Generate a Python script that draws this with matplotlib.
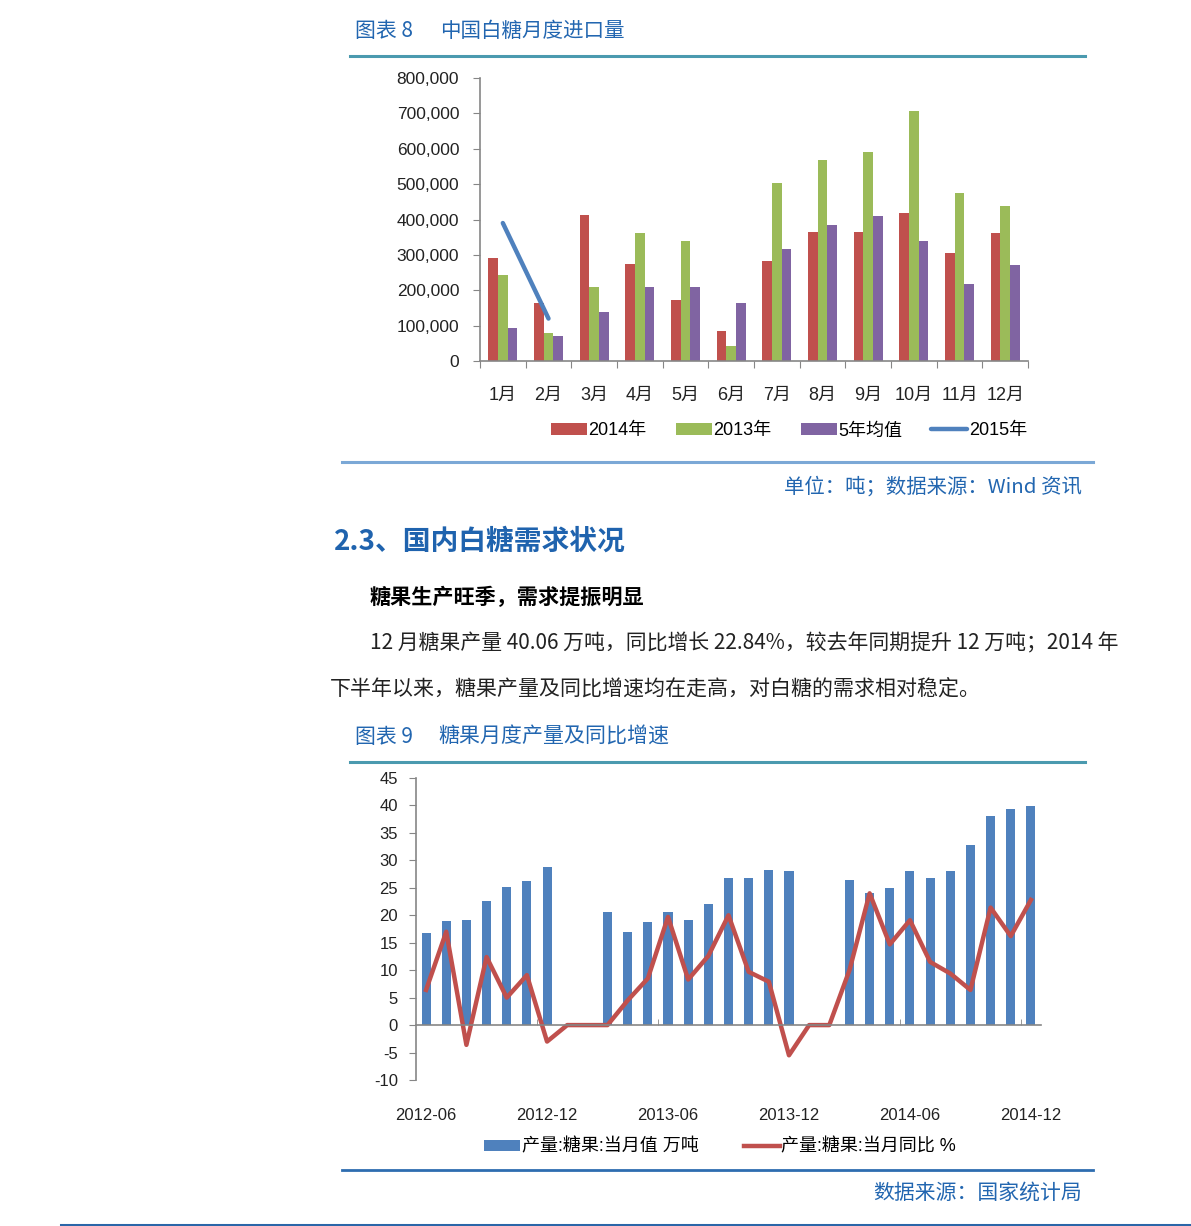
import matplotlib
matplotlib.use("Agg")
import matplotlib.pyplot as plt
import numpy as np
from matplotlib.lines import Line2D

plt.rcParams['font.family'] = ['Liberation Sans', 'Noto Sans CJK SC', 'DejaVu Sans']
plt.rcParams['axes.unicode_minus'] = False

# ---------------- data: chart 8 ----------------
months = ['1月', '2月', '3月', '4月', '5月', '6月', '7月', '8月', '9月', '10月', '11月', '12月']
imp_2014 = [291000, 163000, 413000, 274000, 173000, 85000, 283000, 366000, 366000, 419000, 305000, 361000]
imp_2013 = [243000, 80000, 208000, 361000, 340000, 41000, 502000, 568000, 590000, 708000, 476000, 437000]
imp_5yr = [94000, 72000, 138000, 208000, 208000, 164000, 318000, 384000, 410000, 340000, 217000, 270000]
imp_2015 = [390000, 120000]

# ---------------- data: chart 9 ----------------
periods = ['2012-06', '2012-07', '2012-08', '2012-09', '2012-10', '2012-11', '2012-12',
           '2013-01', '2013-02', '2013-03', '2013-04', '2013-05', '2013-06', '2013-07',
           '2013-08', '2013-09', '2013-10', '2013-11', '2013-12', '2014-01', '2014-02',
           '2014-03', '2014-04', '2014-05', '2014-06', '2014-07', '2014-08', '2014-09',
           '2014-10', '2014-11', '2014-12']
candy_output = [16.7, 18.9, 19.2, 22.6, 25.1, 26.3, 28.8,
                np.nan, np.nan, 20.6, 17.0, 18.7, 20.6, 19.2,
                22.0, 26.8, 26.8, 28.2, 28.0, np.nan, np.nan,
                26.5, 24.0, 24.9, 28.0, 26.8, 28.0, 32.8,
                38.0, 39.3, 39.9]
candy_yoy = [6.4, 17.0, -3.6, 12.4, 5.0, 9.1, -3.0,
             0.0, 0.0, 0.0, 4.5, 8.5, 19.7, 8.3,
             12.6, 20.0, 9.7, 7.9, -5.5, 0.0, 0.0,
             10.0, 24.0, 14.7, 19.1, 11.5, 9.4, 6.4,
             21.4, 16.2, 22.8]
x_labels = ['2012-06', '2012-12', '2013-06', '2013-12', '2014-06', '2014-12']

W, H = 1191, 1226
fig = plt.figure(figsize=(W / 100, H / 100), dpi=100)
fig.patch.set_facecolor('white')

def px_axes(x0, y0, x1, y1):
    return fig.add_axes([x0 / W, 1 - y1 / H, (x1 - x0) / W, (y1 - y0) / H])

def hline(y, x0, x1, color, lw=2.0):
    fig.add_artist(Line2D([x0 / W, x1 / W], [1 - y / H, 1 - y / H], color=color, lw=lw,
                          transform=fig.transFigure))

def ftext(x, y, s, **kw):
    fig.text(x / W, 1 - y / H, s, **kw)

BLUE_TXT = '#2266B0'
CJK = ['Noto Sans CJK SC', 'DejaVu Sans']
AXC = '#868686'

# ---------------- page text ----------------
ftext(355, 31, '图表 8', color=BLUE_TXT, fontsize=15, family=CJK, va='center', ha='left')
ftext(440, 31, '中国白糖月度进口量', color=BLUE_TXT, fontsize=14.8, family=CJK,
      va='center', ha='left')
hline(56, 350, 1085, '#4B9AAF', 2.2)
hline(462, 342, 1093, '#7BA8D6', 2.2)
ftext(1082, 487, '单位：吨；数据来源：Wind 资讯', color=BLUE_TXT, fontsize=14.7, family=CJK,
      va='center', ha='right')
ftext(334, 542, '2.3、国内白糖需求状况', color='#1F63AE', fontsize=20, family=CJK,
      weight='bold', va='center', ha='left')
ftext(370, 597, '糖果生产旺季，需求提振明显', color='black', fontsize=15.2, family=CJK,
      weight='bold', va='center', ha='left')
ftext(370, 643, '12 月糖果产量 40.06 万吨，同比增长 22.84%，较去年同期提升 12 万吨；2014 年',
      color='#222222', fontsize=15.0, family=CJK, va='center', ha='left')
ftext(330, 689, '下半年以来，糖果产量及同比增速均在走高，对白糖的需求相对稳定。',
      color='#222222', fontsize=15.1, family=CJK, va='center', ha='left')
ftext(355, 737, '图表 9', color=BLUE_TXT, fontsize=15, family=CJK, va='center', ha='left')
ftext(438, 737, '糖果月度产量及同比增速', color=BLUE_TXT, fontsize=15.1, family=CJK,
      va='center', ha='left')
hline(762, 350, 1085, '#4B9AAF', 2.2)
hline(1170, 342, 1093, '#2E6DB0', 2.0)
ftext(1082, 1193, '数据来源：国家统计局', color=BLUE_TXT, fontsize=15, family=CJK,
      va='center', ha='right')
hline(1224.5, 61, 1191, '#2B66A8', 2.2)

# ---------------- chart 8 ----------------
ax1 = px_axes(480, 78, 1028, 361)
x = np.arange(len(months))
bw = 0.21
b1 = ax1.bar(x - bw, imp_2014, width=bw, color='#C0504D', label='2014年')
b2 = ax1.bar(x, imp_2013, width=bw, color='#9BBB59', label='2013年')
b3 = ax1.bar(x + bw, imp_5yr, width=bw, color='#8064A2', label='5年均值')
l1, = ax1.plot(np.arange(len(imp_2015)), imp_2015, color='#4F81BD', lw=3.2, label='2015年',
               solid_capstyle='round')
ax1.set_xlim(-0.5, len(months) - 0.5)
ax1.set_ylim(0, 800000)
ax1.set_yticks(np.arange(0, 800001, 100000))
ax1.set_yticklabels([f'{v:,}' for v in range(0, 800001, 100000)])
ax1.set_xticks(np.arange(-0.5, len(months), 1.0))
ax1.set_xticklabels([])
ax1.set_xticks(x, minor=True)
ax1.set_xticklabels(months, minor=True)
ax1.tick_params(axis='x', which='major', length=5, color=AXC, direction='out')
ax1.tick_params(axis='x', which='minor', length=0, pad=19, labelsize=13, labelcolor='#222222')
ax1.tick_params(axis='y', length=5, color=AXC, direction='out', pad=10, labelsize=12.5,
                labelcolor='#222222')
for s in ['top', 'right']:
    ax1.spines[s].set_visible(False)
for s in ['left', 'bottom']:
    ax1.spines[s].set_color(AXC)
    ax1.spines[s].set_linewidth(1.2)
ax1.legend([b1, b2, b3, l1], ['2014年', '2013年', '5年均值', '2015年'],
           loc='center', bbox_to_anchor=((548 + 1030) / 2 / W, 1 - 431 / H),
           bbox_transform=fig.transFigure, ncol=4, frameon=False, fontsize=13,
           handlelength=2.0, handleheight=0.6, handletextpad=0.1, columnspacing=1.6,
           borderaxespad=0)

# ---------------- chart 9 ----------------
ax2 = px_axes(416, 778, 1041, 1080)
xi = np.arange(len(periods))
bb = ax2.bar(xi, candy_output, width=0.45, color='#4F81BD')
ll, = ax2.plot(xi, candy_yoy, color='#C0504D', lw=3.2)
ax2.set_xlim(-0.5, len(periods) - 0.5)
ax2.set_ylim(-10, 45)
ax2.set_yticks(np.arange(-10, 46, 5))
ax2.spines['bottom'].set_position(('data', 0))
label_pos = [periods.index(p) for p in x_labels]
ax2.set_xticks(label_pos)
ax2.set_xticklabels(x_labels)
ax2.set_xticks(np.array(label_pos[1:]) - 0.5, minor=True)
ax2.tick_params(axis='x', which='major', length=0, pad=59.5, labelsize=12, labelcolor='#222222')
ax2.tick_params(axis='x', which='minor', length=4, color=AXC, direction='in')
ax2.tick_params(axis='y', length=5, color=AXC, direction='out', pad=8, labelsize=12,
                labelcolor='#222222')
for s in ['top', 'right']:
    ax2.spines[s].set_visible(False)
for s in ['left', 'bottom']:
    ax2.spines[s].set_color(AXC)
    ax2.spines[s].set_linewidth(1.2)
ax2.legend([bb, ll], ['产量:糖果:当月值 万吨', '产量:糖果:当月同比 %'],
           loc='center', bbox_to_anchor=((480 + 960) / 2 / W, 1 - 1147 / H),
           bbox_transform=fig.transFigure, ncol=2, frameon=False, fontsize=13,
           handlelength=2.0, handleheight=0.6, handletextpad=0.1, columnspacing=2.5,
           borderaxespad=0)

fig.savefig('out.png', dpi=100, facecolor='white')
